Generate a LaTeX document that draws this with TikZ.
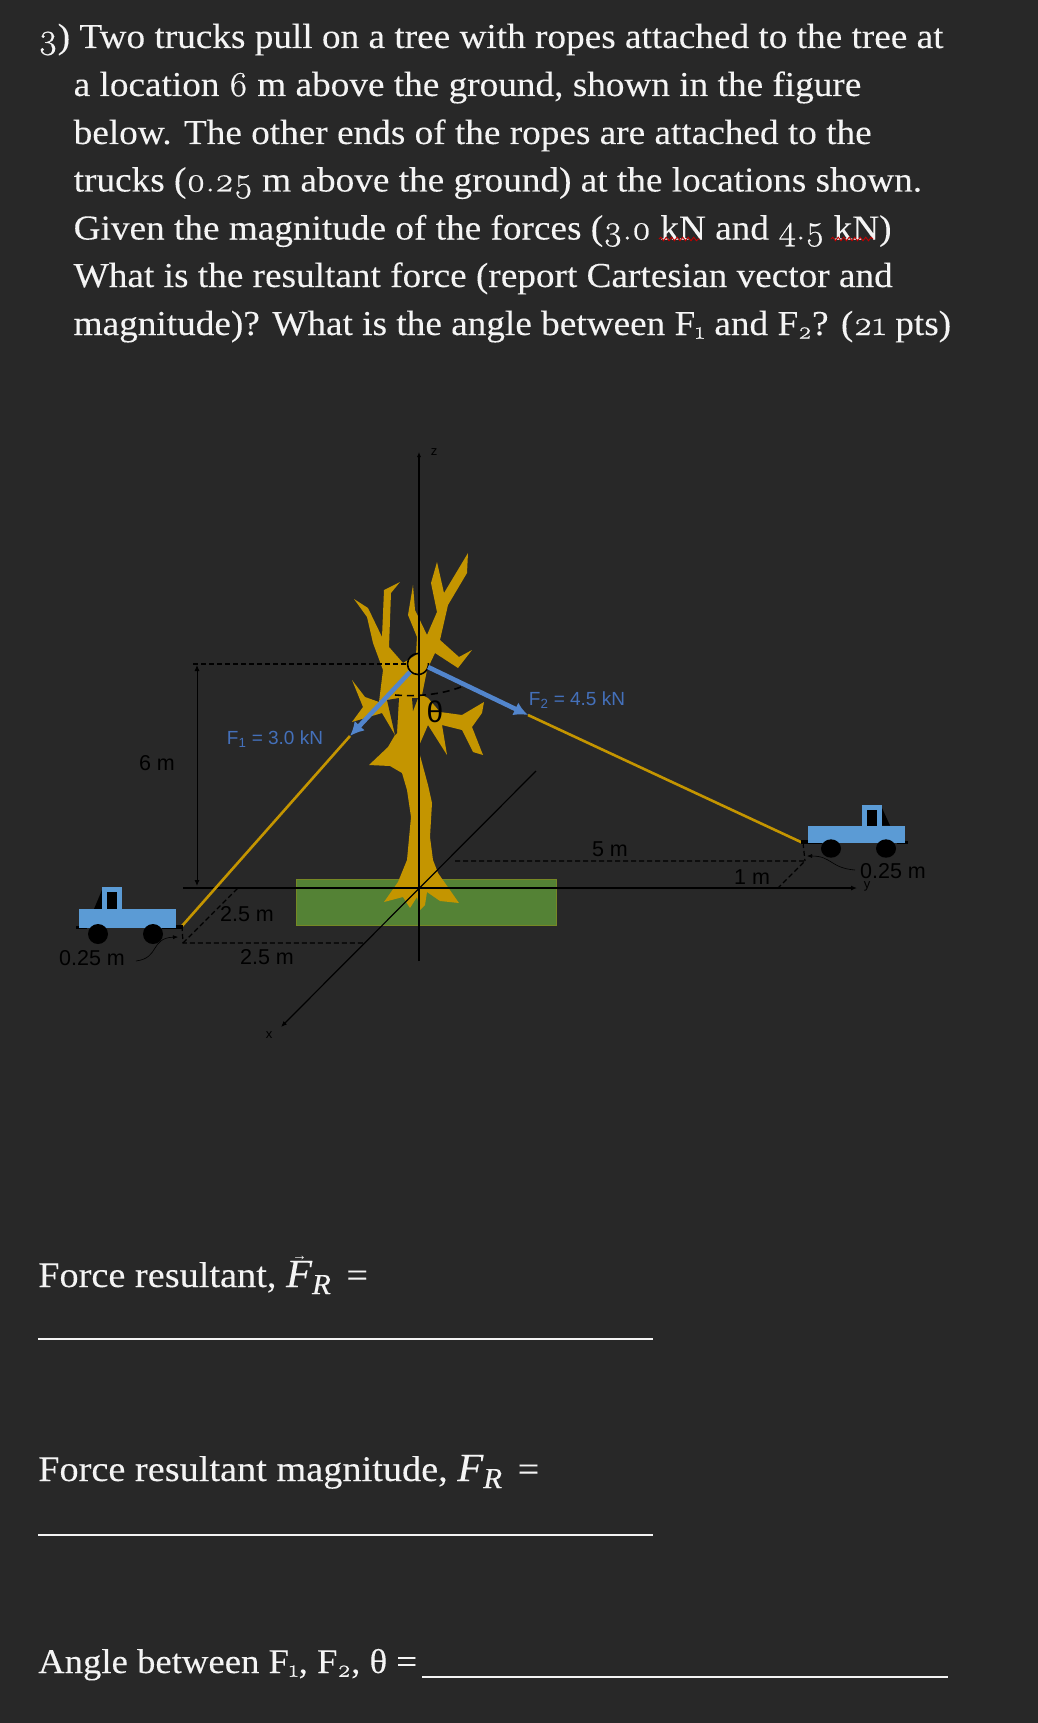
\documentclass[tikz,border=0pt]{standalone}
\usepackage{amsmath}
\usepackage{fontspec}
\usepackage{xcolor}
\setmainfont[FakeStretch=1.064,FakeBold=0.12]{Liberation Serif}
\newfontfamily\arialfont{Liberation Sans}
\newfontfamily\oldnum[Numbers=OldStyle,FakeStretch=1.05,FakeBold=0.6]{Latin Modern Roman}
\newcommand{\on}[1]{{\oldnum #1}}
\newcommand{\forcevar}{{\itshape\fontsize{40}{40}\selectfont F}\raisebox{-7pt}{\itshape\fontsize{29}{29}\selectfont R}}
\newcommand{\vecmark}{\makebox[0pt][l]{\hspace{6pt}\raisebox{27pt}{\arialfont\fontsize{15}{15}\selectfont →}}}
\definecolor{panel}{HTML}{282828}
\definecolor{treegold}{HTML}{C49500}
\definecolor{forceblue}{HTML}{5285CC}
\definecolor{labelblue}{HTML}{4470BA}
\definecolor{truckblue}{HTML}{5B9BD5}
\definecolor{grassgreen}{HTML}{548235}
\definecolor{offwhite}{HTML}{F4F4F4}
\usetikzlibrary{arrows.meta,decorations.pathmorphing}
\tikzset{
	question/.style={anchor=base west,inner sep=0pt,text=offwhite,font=\fontsize{35}{35}\selectfont},
	answer/.style={question,font=\fontsize{36}{36}\selectfont},
	dimlabel/.style={inner sep=0pt,text=black,font=\arialfont\fontsize{21.5}{21.5}\selectfont},
	axislabel/.style={inner sep=0pt,text=black,font=\arialfont\fontsize{13}{13}\selectfont},
	forcelabel/.style={inner sep=0pt,text=labelblue,font=\arialfont\fontsize{19}{19}\selectfont},
	axisline/.style={black,line width=1.2pt},
	dimline/.style={black,line width=1.2pt,dash pattern=on 5pt off 3pt},
	answerline/.style={offwhite,line width=1.2pt},
	rope/.style={treegold,line width=2.6pt},
	forcearrow/.style={forceblue,line width=4.6pt,-{Latex[length=14pt,width=14pt]}},
	smalltip/.style={{Latex[length=6pt,width=5pt]}-{Latex[length=6pt,width=5pt]}},
	squiggle/.style={red!75!black,line width=0.9pt,decorate,decoration={snake,amplitude=1.8pt,segment length=5.5pt}},
	pics/pickup/.style={code={
		\fill[black] (15,-19) -- (23,-38) -- (23,-19) -- cycle;
		\fill[black] (-3,-2) rectangle (8,1);
		\fill[black] (83,-3) rectangle (104,1);
		\fill[truckblue] (0,-19) rectangle (97,0);
		\fill[truckblue] (23,-41) rectangle (43,-19);
		\fill[black] (28,-36) rectangle (38,-19);
		\fill[black] (19,6) circle (10);
		\fill[black] (74,6) circle (10);
	}}
}
\begin{document}
\begin{tikzpicture}[x=1pt,y=-1pt]
	\fill[panel] (0,0) rectangle (1038,1723);

	\node[question] (qline1) at (38,48) {\on{3}) Two trucks pull on a tree with ropes attached to the tree at};
	\node[question] (qline2) at (73.5,96) {a location \on{6} m above the ground, shown in the figure};
	\node[question] (qline3) at (73.5,144) {below. The other ends of the ropes are attached to the};
	\node[question] (qline4) at (73.5,191.500) {trucks (\on{0.25} m above the ground) at the locations shown.};
	\node[question] (qline5) at (73.5,239.500) {Given the magnitude of the forces (\on{3.0} kN and \on{4.5} kN)};
	\node[question] (qline6) at (73.5,287) {What is the resultant force (report Cartesian vector and};
	\node[question] (qline7) at (73.5,335) {magnitude)? What is the angle between F\textsubscript{\on{1}} and F\textsubscript{\on{2}}? (\on{21} pts)};
	\draw[squiggle] (659,239) -- (700,239);
	\draw[squiggle] (831,239) -- (873,239);

	\fill[grassgreen,draw=grassgreen!70!treegold,line width=0.8pt] (296,879) rectangle (556,925);

	\fill[treegold] (384,902) -- (398,882) -- (407,860) -- (411,817) -- (407,790) -- (402,773) -- (390,766) -- (369,765)
		-- (388,747) -- (395,735) -- (382,713) -- (352,722) -- (363,707) -- (352,680) -- (365,697) -- (379,702) -- (383,670)
		-- (373,643) -- (367,617) -- (354,599) -- (368,608) -- (382,637) -- (384,590) -- (400,582) -- (391,593) -- (389,647)
		-- (403,663) -- (416,655) -- (417,637) -- (408,615) -- (413,585) -- (415,610) -- (427,635) -- (437,612) -- (431,583)
		-- (437,562) -- (444,593) -- (468,553) -- (467,573) -- (448,605) -- (440,640) -- (459,657) -- (472,650) -- (458,668)
		-- (435,653) -- (427,670) -- (422,695) -- (428,698) -- (440,712) -- (462,715) -- (484,702) -- (482,713) -- (472,727)
		-- (483,755) -- (473,752) -- (462,730) -- (442,725) -- (447,755) -- (428,725) -- (418,748) -- (428,785) -- (432,803)
		-- (430,837) -- (433,860) -- (438,873) -- (459,903) -- (440,901) -- (427,892) -- (425,905) -- (420,910) -- (417,897)
		-- (410,908) -- (403,897) -- cycle;
	\fill[panel] (387,700) -- (399,698) -- (397,733) -- (395,735) -- cycle;
	\fill[panel] (412,698) -- (418,698) -- (413,711) -- cycle;

	\coordinate (ropeleft) at (182,926);
	\coordinate (roperight) at (803,843);
	\coordinate (headleft) at (350,736);
	\coordinate (headright) at (528,715);
	\coordinate (baseleft) at (183,943);
	\coordinate (baseright) at (805,861);

	\draw[axisline,-{Latex[length=5pt,width=4pt]}] (419,961) -- (419,452);
	\draw[axisline,-{Latex[length=6pt,width=5pt]}] (183,888) -- (857,888);
	\draw[axisline,-{Latex[length=6pt,width=5pt]}] (536,771) -- (281,1027);

	\draw[dimline] (193,664) -- (407,664);
	\draw[black,line width=1pt,smalltip] (197,665) -- (197,886);
	\draw[dimline] (ropeleft) -- (baseleft) -- (365,943);
	\draw[dimline] (baseleft) -- (238,888);
	\draw[dimline] (455,861) -- (baseright) -- (778,888);
	\draw[dimline] (roperight) -- (baseright);
	\draw[black,line width=1.6pt,dash pattern=on 7pt off 5pt] (395,695) .. controls (420,697) and (445,694) .. (466,685);
	\draw[black,line width=1.6pt] (418,653.500) arc[start angle=270,end angle=-5,radius=10.5];

	\draw[rope] (ropeleft) -- (headleft);
	\draw[rope] (headright) -- (roperight);
	\draw[forcearrow] (410,672) -- (headleft);
	\draw[forcearrow] (428,667) -- (headright);

	\pic at (79,928) {pickup};
	\pic[xscale=-1,yscale=0.92] at (905,843) {pickup};

	\draw[black,line width=0.6pt,-{Latex[length=5pt,width=4pt]}] (136,961) .. controls (160,958) and (150,938) .. (178,937);
	\draw[black,line width=0.6pt,-{Latex[length=5pt,width=4pt]}] (855,870) .. controls (830,868) and (832,856) .. (807,856);

	\node[dimlabel] (lblheight) at (157,763) {6 m};
	\node[dimlabel] (lblxone) at (247,914) {2.5 m};
	\node[dimlabel] (lblxtwo) at (267,957) {2.5 m};
	\node[dimlabel] (lbltruckleft) at (92,958) {0.25 m};
	\node[dimlabel] (lblfive) at (610,849) {5 m};
	\node[dimlabel] (lblone) at (752,877) {1 m};
	\node[dimlabel] (lbltruckright) at (893,871) {0.25 m};
	\node[axislabel] (lblz) at (434,452) {z};
	\node[axislabel] (lbly) at (867,886) {y};
	\node[axislabel] (lblx) at (269,1035) {x};
	\node[forcelabel] (lblforceone) at (275,739) {F\textsubscript{1} = 3.0 kN};
	\node[forcelabel] (lblforcetwo) at (577,700) {F\textsubscript{2} = 4.5 kN};
	\node[dimlabel,font=\arialfont\fontsize{30}{30}\selectfont] (lbltheta) at (435,712) {θ};

	\node[answer] (resvector) at (38,1287) {Force resultant, \vecmark\forcevar\ \,=};
	\draw[answerline] (38,1339) -- (653,1339);
	\node[answer] (resmag) at (38,1481) {Force resultant magnitude, \forcevar\ \,=};
	\draw[answerline] (38,1535) -- (653,1535);
	\node[question,font=\fontsize{34.5}{34.5}\selectfont] (resangle) at (38,1673) {Angle between F\textsubscript{\on{1}}, F\textsubscript{\on{2}}, θ =};
	\draw[answerline] (422,1677) -- (948,1677);
\end{tikzpicture}
\end{document}
